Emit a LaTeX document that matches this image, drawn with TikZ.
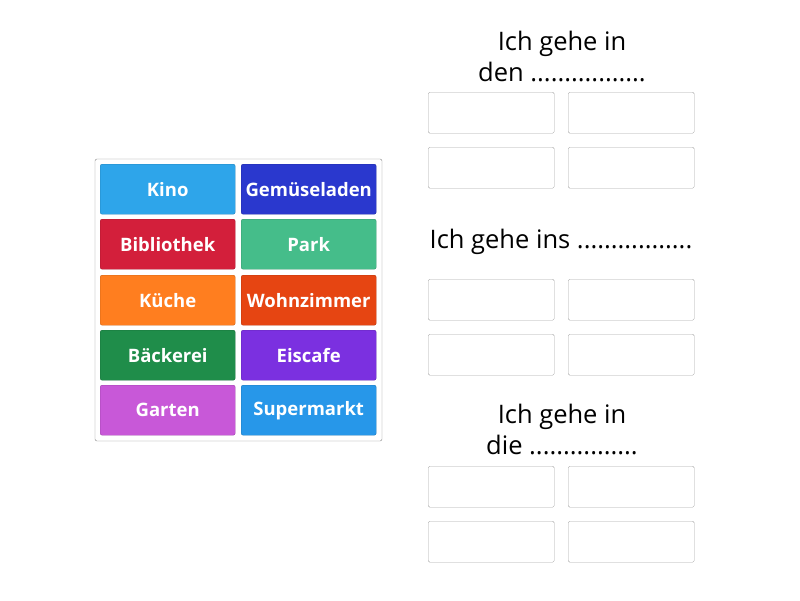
\documentclass[tikz,border=0pt]{standalone}
\usepackage{fontspec}
\setmainfont{Open Sans}
\definecolor{cKino}{HTML}{2EA5EA}
\definecolor{cGemuese}{HTML}{2A38CE}
\definecolor{cBib}{HTML}{D31F3B}
\definecolor{cPark}{HTML}{45BD8A}
\definecolor{cKueche}{HTML}{FF7E1F}
\definecolor{cWohn}{HTML}{E64512}
\definecolor{cBaeck}{HTML}{1F8D4A}
\definecolor{cEis}{HTML}{7B30E0}
\definecolor{cGarten}{HTML}{C858D8}
\definecolor{cSuper}{HTML}{2797E9}
\definecolor{boxline}{HTML}{A8A8A8}
\tikzset{
  tile/.style={fill=#1, draw=#1!80!black, rounded corners=2pt, minimum width=135pt, minimum height=50pt,
    anchor=north west, inner sep=0pt, text=white, font=\fontsize{18.5}{22}\selectfont\bfseries},
  slot/.style={draw=boxline, rounded corners=1.5pt, minimum width=126pt, minimum height=41pt,
    anchor=north west, inner sep=0pt},
  heading/.style={align=center, font=\fontsize{25.5}{31}\selectfont, inner sep=0pt}
}
\begin{document}
\begin{tikzpicture}[x=1pt,y=-1pt]
  \useasboundingbox (0,0) rectangle (800,600);

  % word tiles
  \draw[boxline!80!black, rounded corners=2pt] (95,159) rectangle (382,441);
  \foreach \word/\col/\x/\y/\nm in {Kino/cKino/100/164/kino, Gemüseladen/cGemuese/241/164/gemuese,
      Bibliothek/cBib/100/219/bib, Park/cPark/241/219/park,
      Küche/cKueche/100/275/kueche, Wohnzimmer/cWohn/241/275/wohn,
      Bäckerei/cBaeck/100/330/baeck, Eiscafe/cEis/241/330/eis,
      Garten/cGarten/100/385/garten, Supermarkt/cSuper/241/385/super}
    \node[tile=\col] (\nm) at (\x,\y) {\word};

  % groups
  \node[heading] (den) at (562,56) {Ich gehe in\\den .................};
  \node[heading] (ins) at (561,242) {Ich gehe ins .................};
  \node[heading] (die) at (562,429) {Ich gehe in\\die ................};

  \foreach \y/\g in {92/a, 147/b, 279/c, 334/d, 466/e, 521/f} {
    \node[slot] (slot\g1) at (428,\y) {};
    \node[slot] (slot\g2) at (568,\y) {};
  }
\end{tikzpicture}
\end{document}
